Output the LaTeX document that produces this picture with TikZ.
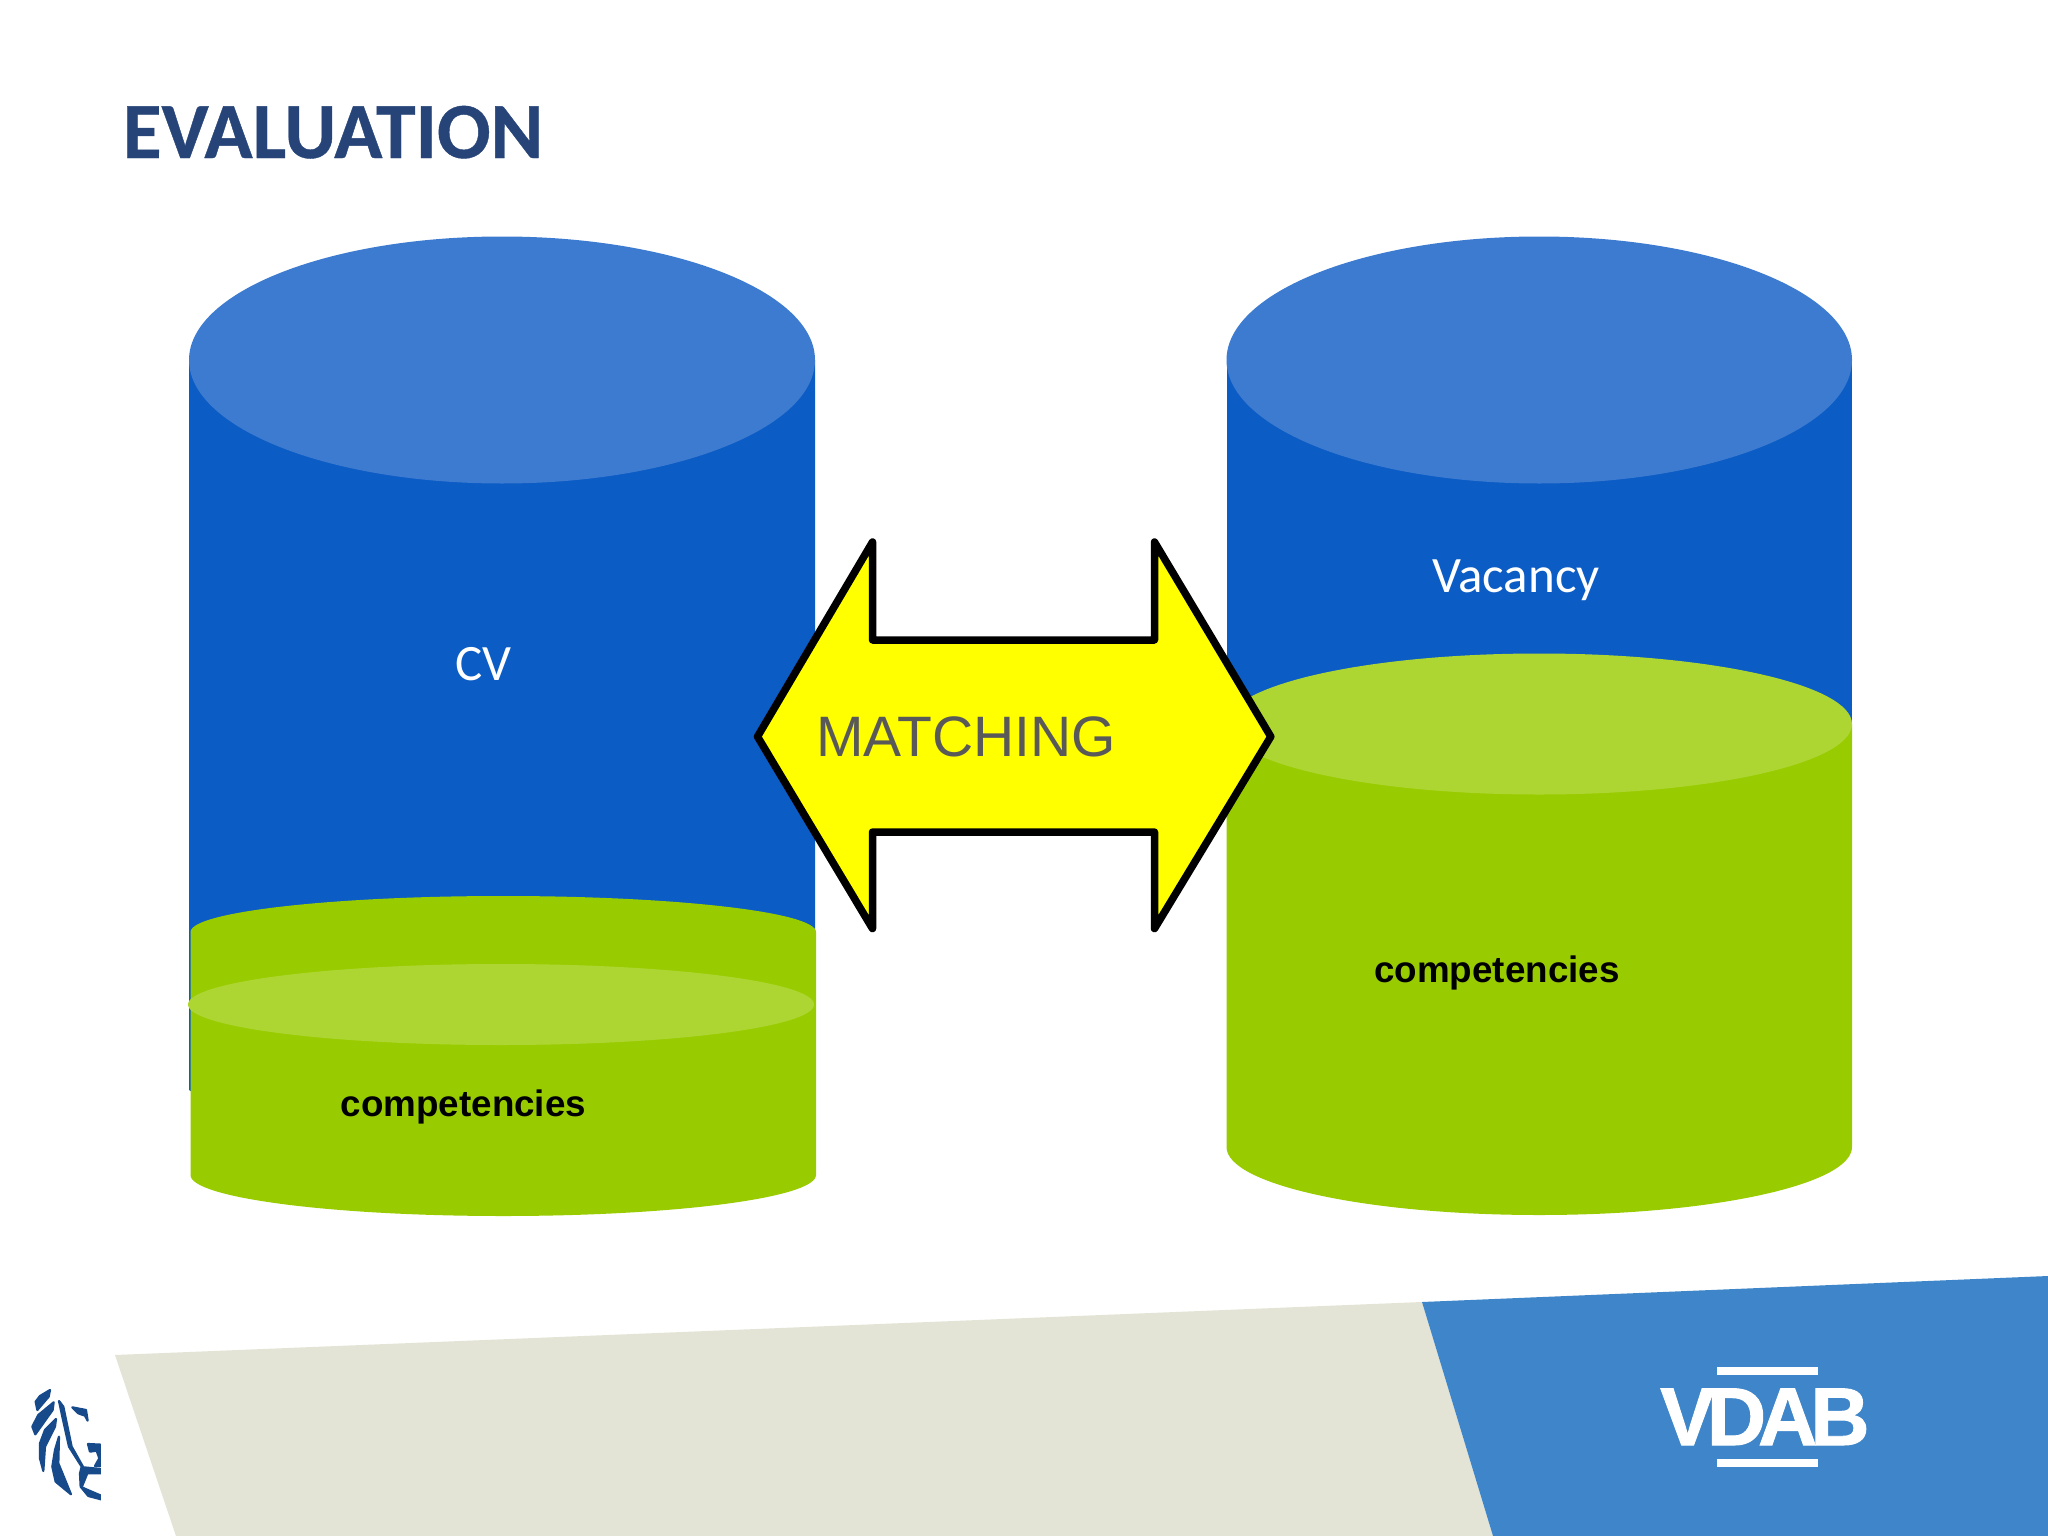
\documentclass[tikz,border=0pt]{standalone}
\usepackage{fontspec}
\setmainfont{Liberation Sans}
\newfontfamily\carlito{Carlito}
\newfontfamily\titlefont[FakeBold=0.5]{Carlito Bold}
\newfontfamily\logofont[FakeBold=1.2]{Liberation Sans Bold}
\definecolor{cylblue}{HTML}{0B5CC5}
\definecolor{captop}{HTML}{3C7BD0}
\definecolor{cylgreen}{HTML}{99CC00}
\definecolor{greentop}{HTML}{ADD633}
\definecolor{titleblue}{HTML}{264478}
\definecolor{beige}{HTML}{E3E4D5}
\definecolor{bandblue}{HTML}{3E86C9}
\definecolor{lionblue}{HTML}{174A8B}
\definecolor{matchgrey}{HTML}{595959}
\definecolor{arrowyellow}{HTML}{FFFF00}
\tikzset{
  lbl/.style={inner sep=0pt,anchor=base west},
  comp/.style={lbl,font=\fontsize{36.8}{40}\selectfont\bfseries,text=black},
  wlabel/.style={lbl,font=\carlito\fontsize{51}{55}\selectfont,text=white},
  lionpart/.style={fill=lionblue,draw=lionblue,line width=2.2pt,line join=round}
}
\begin{document}
\begin{tikzpicture}[x=1pt,y=-1pt]
\useasboundingbox (0,0) rectangle (2048,1536);
\fill[white] (0,0) rectangle (2048,1536);
% footer bands
\fill[beige] (115,1355) -- (1422,1302) -- (1493,1536) -- (176,1536) -- cycle;
\fill[bandblue] (1422,1302) -- (2048,1276) -- (2048,1536) -- (1493,1536) -- cycle;
% title
\node[lbl,font=\titlefont\fontsize{79.6}{80}\selectfont,text=titleblue] (title) at (122.5,158) {EVALUATION};
% left cylinder
\fill[cylblue] (189,360) -- (189,1090) arc[start angle=180,end angle=0,x radius=313,y radius=10] -- (815,360) -- cycle;
\fill[cylgreen] (190.5,932) arc[start angle=180,end angle=360,x radius=312.75,y radius=36] -- (816,1175) arc[start angle=0,end angle=180,x radius=312.75,y radius=41] -- cycle;
\fill[greentop] (501,1004.5) ellipse[x radius=313,y radius=40.5];
\fill[captop] (502,360) ellipse[x radius=313,y radius=123.5];
% right cylinder
\fill[cylblue] (1226.5,360) rectangle (1852,800);
\fill[cylgreen] (1226.5,724) -- (1226.5,1147) arc[start angle=180,end angle=0,x radius=312.75,y radius=68] -- (1852,724) -- cycle;
\fill[greentop] (1539.25,724) ellipse[x radius=312.75,y radius=70.5];
\fill[captop] (1539.25,360) ellipse[x radius=312.75,y radius=123.5];
% labels
\node[wlabel] (cv) at (455,680) {CV};
\node[wlabel] (vac) at (1432,592) {Vacancy};
\node[comp] (c1) at (340.5,1116) {competencies};
\node[comp] (c2) at (1374,982) {competencies};
% double arrow
\draw[line width=7.5pt,line join=round,fill=arrowyellow,draw=black] (757.5,736.6) -- (872.5,542) -- (872.5,640) -- (1154.5,640) -- (1154.5,542) -- (1270.8,736.6) -- (1154.5,928.6) -- (1154.5,832) -- (872.5,832) -- (872.5,928.6) -- cycle;
\node[lbl,font=\fontsize{57}{60}\selectfont,text=matchgrey] (match) at (816,756) {MATCHING};
% VDAB logo
\fill[white] (1716.7,1366.7) rectangle (1817.7,1375.3);
\fill[white] (1716.7,1458.7) rectangle (1817.7,1467.3);
\node[lbl,font=\logofont\fontsize{82}{85}\selectfont,text=white] (vdab) at (1660,1445) {V\kern-8pt D\kern-8pt A\kern-7pt B};
% lion
\begin{scope}[shift={(0,1250)},x=0.3333pt,y=-0.3333pt]
\clip (0,400) rectangle (303,760);
\filldraw[lionpart] (150,420) -- (146,440) -- (112,480) -- (107,455) -- (120,438) -- cycle;
\filldraw[lionpart] (161,457) -- (158,480) -- (106,553) -- (97,530) -- (115,495) -- cycle;
\filldraw[lionpart] (168,507) -- (165,530) -- (135,590) -- (130,663) -- (120,625) -- (120,580) -- (135,540) -- cycle;
\filldraw[lionpart] (177,560) -- (175,640) -- (213,733) -- (167,695) -- (157,650) -- (165,600) -- cycle;
\filldraw[lionpart] (177,453) -- (190,470) -- (215,590) -- (250,652) -- (303,657) -- (303,670) -- (262,670) -- (245,712) -- (303,737) -- (303,748) -- (265,738) -- (242,710) -- (240,670) -- (245,650) -- (207,590) -- (187,500) -- cycle;
\filldraw[lionpart] (217,472) -- (258,480) -- (263,512) -- (255,497) -- (235,490) -- cycle;
\filldraw[lionpart] (264,582) -- (303,584) -- (303,648) -- (285,648) -- (298,625) -- (290,602) -- (270,605) -- cycle;
\end{scope}
\end{tikzpicture}
\end{document}
